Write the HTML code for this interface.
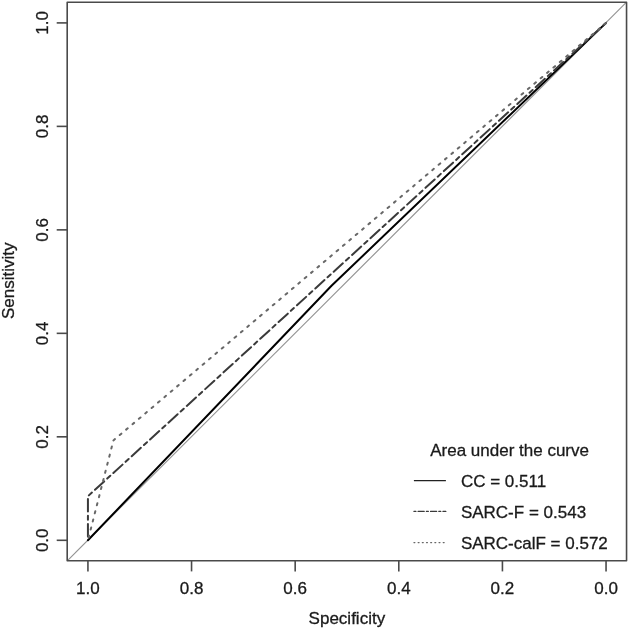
<!DOCTYPE html>
<html><head><meta charset="utf-8"><style>
html,body{margin:0;padding:0;background:#fff;}
svg{display:block;}
text{font-family:"Liberation Sans",Arial,sans-serif;font-size:17px;fill:#1a1a1a;stroke:#1a1a1a;stroke-width:0.3px;}
</style></head><body>
<svg width="629" height="630" viewBox="0 0 629 630">
<rect width="629" height="630" fill="#fff"/>
<line x1="67.2" y1="560.8" x2="626.55" y2="2.2" stroke="#939393" stroke-width="1.15"/>
<polyline points="606.05,22.90 331.50,285.79 87.93,540.30" fill="none" stroke="#000" stroke-width="2" stroke-linejoin="round" stroke-linecap="round"/>
<polyline points="606.05,22.90 87.93,496.22 87.93,540.30" fill="none" stroke="#3a3a3a" stroke-width="2" stroke-dasharray="4.145 4.145 12.435 4.145" stroke-linecap="round" stroke-linejoin="round"/>
<polyline points="606.05,22.90 113.42,440.39 87.93,540.30" fill="none" stroke="#686868" stroke-width="2" stroke-dasharray="2.09 6.27" stroke-linecap="round" stroke-linejoin="round"/>
<rect x="67.2" y="2.2" width="559.3499999999999" height="558.5999999999999" fill="none" stroke="#4a4a4a" stroke-width="1.6" stroke-linejoin="round"/>
<line x1="87.93" y1="560.8" x2="87.93" y2="571.4" stroke="#4a4a4a" stroke-width="1.6"/>
<text x="87.93" y="594.2" text-anchor="middle">1.0</text>
<line x1="191.55" y1="560.8" x2="191.55" y2="571.4" stroke="#4a4a4a" stroke-width="1.6"/>
<text x="191.55" y="594.2" text-anchor="middle">0.8</text>
<line x1="295.18" y1="560.8" x2="295.18" y2="571.4" stroke="#4a4a4a" stroke-width="1.6"/>
<text x="295.18" y="594.2" text-anchor="middle">0.6</text>
<line x1="398.80" y1="560.8" x2="398.80" y2="571.4" stroke="#4a4a4a" stroke-width="1.6"/>
<text x="398.80" y="594.2" text-anchor="middle">0.4</text>
<line x1="502.43" y1="560.8" x2="502.43" y2="571.4" stroke="#4a4a4a" stroke-width="1.6"/>
<text x="502.43" y="594.2" text-anchor="middle">0.2</text>
<line x1="606.05" y1="560.8" x2="606.05" y2="571.4" stroke="#4a4a4a" stroke-width="1.6"/>
<text x="606.05" y="594.2" text-anchor="middle">0.0</text>
<line x1="56.7" y1="540.30" x2="67.2" y2="540.30" stroke="#4a4a4a" stroke-width="1.6"/>
<text transform="translate(48.2 540.30) rotate(-90)" text-anchor="middle">0.0</text>
<line x1="56.7" y1="436.82" x2="67.2" y2="436.82" stroke="#4a4a4a" stroke-width="1.6"/>
<text transform="translate(48.2 436.82) rotate(-90)" text-anchor="middle">0.2</text>
<line x1="56.7" y1="333.34" x2="67.2" y2="333.34" stroke="#4a4a4a" stroke-width="1.6"/>
<text transform="translate(48.2 333.34) rotate(-90)" text-anchor="middle">0.4</text>
<line x1="56.7" y1="229.86" x2="67.2" y2="229.86" stroke="#4a4a4a" stroke-width="1.6"/>
<text transform="translate(48.2 229.86) rotate(-90)" text-anchor="middle">0.6</text>
<line x1="56.7" y1="126.38" x2="67.2" y2="126.38" stroke="#4a4a4a" stroke-width="1.6"/>
<text transform="translate(48.2 126.38) rotate(-90)" text-anchor="middle">0.8</text>
<line x1="56.7" y1="22.90" x2="67.2" y2="22.90" stroke="#4a4a4a" stroke-width="1.6"/>
<text transform="translate(48.2 22.90) rotate(-90)" text-anchor="middle">1.0</text>
<text x="346.88" y="623.8" text-anchor="middle">Specificity</text>
<text transform="translate(14.1 280.70) rotate(-90)" text-anchor="middle">Sensitivity</text>
<text x="509.6" y="455.7" text-anchor="middle">Area under the curve</text>
<line x1="413.9" y1="480.55" x2="445.9" y2="480.55" stroke="#222" stroke-width="1.25" />
<text x="460.9" y="486.7">CC = 0.511</text>
<line x1="413.9" y1="511.4" x2="445.9" y2="511.4" stroke="#3a3a3a" stroke-width="1.1" stroke-dasharray="2.07 2.07 6.22 2.07" stroke-linecap="round"/>
<text x="460.9" y="517.5">SARC-F = 0.543</text>
<line x1="413.9" y1="542.6" x2="445.9" y2="542.6" stroke="#686868" stroke-width="1.1" stroke-dasharray="1.05 3.13" stroke-linecap="round"/>
<text x="460.9" y="548.7">SARC-calF = 0.572</text>
</svg>
</body></html>
